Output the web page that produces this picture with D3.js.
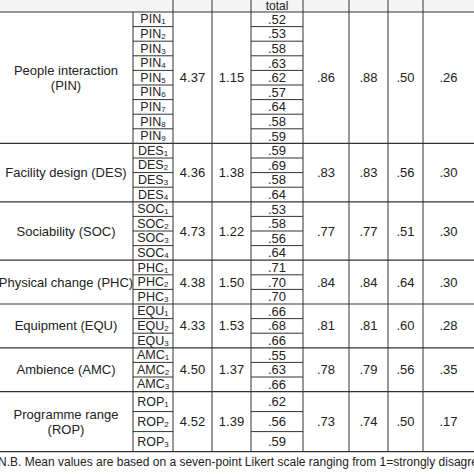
<!DOCTYPE html>
<html>
<head>
<meta charset="utf-8">
<style>
  body { margin: 0; background: #fff; }
  svg { font-family: 'Liberation Sans', Arial, sans-serif; }
  .cell { font-size: 13px; fill: #222; text-anchor: middle; dominant-baseline: central; }
  .item { font-size: 12.5px; }
  .sub { font-size: 8px; }
</style>
</head>
<body>
<svg width="474" height="474"></svg>
<script src="https://d3js.org/d3.v7.min.js"></script>
<script>
const constructs = ["People interaction|(PIN)", "Facility design (DES)", "Sociability (SOC)", "Physical change (PHC)", "Equipment (EQU)", "Ambience (AMC)", "Programme range|(ROP)"]
const codes = ["PIN", "DES", "SOC", "PHC", "EQU", "AMC", "ROP"]
const loadings = [
  [".52", ".53", ".58", ".63", ".62", ".57", ".64", ".58", ".59"],
  [".59", ".69", ".58", ".64"],
  [".53", ".58", ".56", ".64"],
  [".71", ".70", ".70"],
  [".66", ".68", ".66"],
  [".55", ".63", ".66"],
  [".62", ".56", ".59"]
]
const means = ["4.37", "4.36", "4.73", "4.38", "4.33", "4.50", "4.52"]
const sds = ["1.15", "1.38", "1.22", "1.50", "1.53", "1.37", "1.39"]
const alphas = [".86", ".83", ".77", ".84", ".81", ".78", ".73"]
const crs = [".88", ".83", ".77", ".84", ".81", ".79", ".74"]
const aves = [".50", ".56", ".51", ".64", ".60", ".56", ".50"]
const msvs = [".26", ".30", ".30", ".30", ".28", ".35", ".17"]
const footnote = "N.B. Mean values are based on a seven-point Likert scale ranging from 1=strongly disagree"

const svg = d3.select("svg")
const colEdges = [-1, 133, 173, 212, 251, 303, 349, 388, 423, 474]
const headerH = 12
const rowH = codes.map(c => c == "ROP" ? 20 : 14.6)

let yPos = headerH
const groups = codes.map((c, i) => {
  const g = { i, top: yPos, n: loadings[i].length, h: rowH[i] }
  yPos += g.n * g.h
  g.bottom = yPos
  return g
})
const tableBottom = yPos

const mid = k => (colEdges[k] + colEdges[k + 1]) / 2

// header
svg.append("rect").attr("x", 0).attr("y", 0).attr("width", 474).attr("height", headerH).style("fill", "#f4f4f4")
svg.append("text").attr("class", "cell").attr("x", mid(4)).attr("y", headerH / 2 - 0.5).style("font-size", "12px").text("total")

colEdges.slice(1, -1).forEach((x, k) => {
  svg.append("line").attr("x1", x).attr("x2", x)
    .attr("y1", k == 0 ? headerH : 0).attr("y2", tableBottom)
    .style("stroke", "#333").style("stroke-width", 1)
})
svg.append("line").attr("x1", 0).attr("x2", 474).attr("y1", headerH).attr("y2", headerH).style("stroke", "#333").style("stroke-width", 1.2)

groups.forEach(g => {
  const i = g.i
  const cy = (g.top + g.bottom) / 2
  svg.append("line").attr("x1", 0).attr("x2", 474).attr("y1", g.bottom).attr("y2", g.bottom).style("stroke", "#333").style("stroke-width", 1.2)
  const parts = constructs[i].split("|")
  parts.forEach((p, j) => {
    svg.append("text").attr("class", "cell").attr("x", mid(0))
      .attr("y", cy + (j - (parts.length - 1) / 2) * 15).text(p)
  })
  const vals = [means[i], sds[i], null, alphas[i], crs[i], aves[i], msvs[i]]
  vals.forEach((v, k) => {
    if (v) svg.append("text").attr("class", "cell").attr("x", mid(k + 2)).attr("y", cy).text(v)
  })
  loadings[i].forEach((l, r) => {
    const y0 = g.top + r * g.h
    if (r > 0) {
      svg.append("line").attr("x1", colEdges[1]).attr("x2", colEdges[2]).attr("y1", y0).attr("y2", y0).style("stroke", "#333")
      svg.append("line").attr("x1", colEdges[4]).attr("x2", colEdges[5]).attr("y1", y0).attr("y2", y0).style("stroke", "#333")
    }
    const t = svg.append("text").attr("class", "cell item").attr("x", mid(1)).attr("y", y0 + g.h / 2)
    t.append("tspan").text(codes[i])
    t.append("tspan").attr("class", "sub").attr("dy", 2).text(r + 1)
    svg.append("text").attr("class", "cell").attr("x", mid(4)).attr("y", y0 + g.h / 2).text(l)
  })
})

svg.append("text").attr("x", -2).attr("y", tableBottom + 14).style("font-size", "12px").style("fill", "#222").text(footnote)
</script>
</body>
</html>
